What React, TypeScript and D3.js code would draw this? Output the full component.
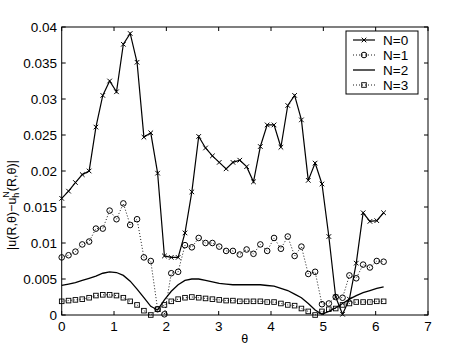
import React from "react";
import * as d3 from "d3";

const theta = [
  0, 0.131, 0.262, 0.393, 0.524, 0.654, 0.785, 0.916, 1.047, 1.178, 1.309, 1.44,
  1.571, 1.702, 1.833, 1.963, 2.094, 2.225, 2.356, 2.487, 2.618, 2.749, 2.88, 3.011,
  3.142, 3.272, 3.403, 3.534, 3.665, 3.796, 3.927, 4.058, 4.189, 4.32, 4.451, 4.581,
  4.712, 4.843, 4.974, 5.105, 5.236, 5.367, 5.498, 5.629, 5.76, 5.89, 6.021, 6.152,
];

const errN0 = [
  0.0162, 0.0172, 0.0184, 0.0195, 0.02, 0.0261, 0.0305, 0.0325, 0.031, 0.0376,
  0.0391, 0.0351, 0.0247, 0.0253, 0.0197, 0.0082, 0.008, 0.008, 0.0114, 0.0171,
  0.0248, 0.0232, 0.0221, 0.0212, 0.0203, 0.0212, 0.0215, 0.0206, 0.0185, 0.0234,
  0.0264, 0.0264, 0.0233, 0.0291, 0.0305, 0.0271, 0.0187, 0.0211, 0.0182, 0.0109,
  0.0025, 0.0001, 0.0022, 0.0072, 0.0142, 0.013, 0.0131, 0.0142,
];

const errN1 = [
  0.008, 0.0083, 0.0088, 0.0098, 0.0102, 0.012, 0.012, 0.0145, 0.0133, 0.0155,
  0.0125, 0.0133, 0.008, 0.0075, 0.0008, 0.0001, 0.0058, 0.006, 0.0097, 0.0094,
  0.0107, 0.01, 0.01, 0.0095, 0.0089, 0.0089, 0.0084, 0.0091, 0.0085, 0.0098,
  0.0089, 0.0107, 0.0092, 0.0109, 0.0082, 0.0095, 0.0057, 0.006, 0.0015, 0.0016,
  0.0025, 0.0024, 0.0055, 0.0051, 0.007, 0.0066, 0.0075, 0.0074,
];

const errN2 = [
  0.0041, 0.0043, 0.0045, 0.0048, 0.0051, 0.0054, 0.0058, 0.006, 0.0059, 0.0055,
  0.0047, 0.0036, 0.0024, 0.0012, 0.0007, 0.0021, 0.0033, 0.0042, 0.0048, 0.005,
  0.005, 0.0048, 0.0046, 0.0044, 0.0043, 0.0042, 0.0042, 0.0042, 0.0042, 0.0042,
  0.0041, 0.004, 0.0037, 0.0034, 0.0029, 0.0024, 0.0016, 0.0007, 0.0001, 0.0005,
  0.001, 0.0016, 0.0022, 0.0027, 0.0031, 0.0034, 0.0037, 0.0039,
];

const errN3 = [
  0.0019, 0.002, 0.0021, 0.0022, 0.0024, 0.0027, 0.0028, 0.0028, 0.0027, 0.0024,
  0.0019, 0.0014, 0.0006, 0.0, 0.0008, 0.0014, 0.0019, 0.0022, 0.0024, 0.0025,
  0.0024, 0.0023, 0.0022, 0.0021, 0.002, 0.002, 0.0019, 0.0019, 0.0019, 0.0019,
  0.0018, 0.0018, 0.0016, 0.0014, 0.0013, 0.0009, 0.0005, 0.0, 0.0005, 0.0008,
  0.0009, 0.0014, 0.0016, 0.0018, 0.0018, 0.0018, 0.0019, 0.0019,
];

const xTicks = [0, 1, 2, 3, 4, 5, 6, 7];
const yTicks = [0, 0.005, 0.01, 0.015, 0.02, 0.025, 0.03, 0.035, 0.04];
const yTickLabels = ["0", "0.005", "0.01", "0.015", "0.02", "0.025", "0.03", "0.035", "0.04"];
const legendLabels = ["N=0", "N=1", "N=2", "N=3"];

const W = 474;
const H = 355;
const L = 61.7, R = 428, T = 27, B = 315;
const FONT = "'Liberation Sans', Arial, Helvetica, sans-serif";

type Marker = "x" | "o" | "s" | "none";

function MarkerShape({ kind, x, y }: { kind: Marker; x: number; y: number }) {
  if (kind === "x") {
    const s = 2.3;
    return (
      <path
        d={`M${x - s},${y - s}L${x + s},${y + s}M${x - s},${y + s}L${x + s},${y - s}`}
        stroke="#000"
        strokeWidth={1}
        fill="none"
      />
    );
  }
  if (kind === "o") {
    return <circle cx={x} cy={y} r={2.8} fill="none" stroke="#000" strokeWidth={1} />;
  }
  if (kind === "s") {
    const s = 2.3;
    return <rect x={x - s} y={y - s} width={2 * s} height={2 * s} fill="none" stroke="#000" strokeWidth={0.9} />;
  }
  return null;
}

export default function App() {
  const x = d3.scaleLinear().domain([0, 7]).range([L, R]);
  const y = d3.scaleLinear().domain([0, 0.04]).range([B, T]);

  const series: { vals: number[]; marker: Marker; dash?: string; width: number }[] = [
    { vals: errN0, marker: "x", width: 1.2 },
    { vals: errN1, marker: "o", dash: "1,2", width: 0.9 },
    { vals: errN2, marker: "none", width: 1.3 },
    { vals: errN3, marker: "s", dash: "1,2", width: 0.9 },
  ];

  const line = (vals: number[]) =>
    d3
      .line<number>()
      .x((_, i) => x(theta[i]))
      .y((v) => y(v))(vals) || "";

  const tickLen = 4;

  return (
    <svg
      width={W}
      height={H}
      style={{ position: "absolute", left: 0, top: 0, background: "#fff" }}
      fontFamily={FONT}
    >
      <rect x={0} y={0} width={W} height={H} fill="#fff" />
      {/* axes box */}
      <rect x={L} y={T} width={R - L} height={B - T} fill="none" stroke="#000" strokeWidth={1} />
      {xTicks.map((t) => (
        <g key={"xt" + t}>
          <line x1={x(t)} x2={x(t)} y1={B} y2={B - tickLen} stroke="#000" />
          <line x1={x(t)} x2={x(t)} y1={T} y2={T + tickLen} stroke="#000" />
          <text x={x(t)} y={331} fontSize={13.5} textAnchor="middle">
            {t}
          </text>
        </g>
      ))}
      {yTicks.map((t, i) => (
        <g key={"yt" + t}>
          <line x1={L} x2={L + tickLen} y1={y(t)} y2={y(t)} stroke="#000" />
          <line x1={R} x2={R - tickLen} y1={y(t)} y2={y(t)} stroke="#000" />
          <text x={57} y={y(t) + 4.5} fontSize={13.5} textAnchor="end">
            {yTickLabels[i]}
          </text>
        </g>
      ))}
      {/* axis labels */}
      <text x={x(3.5)} y={343} fontSize={12.5} textAnchor="middle">
        θ
      </text>
      <text transform="translate(16,205) rotate(-90)" fontSize={12.5} textAnchor="middle">
        |u(R,θ)−u
        <tspan fontSize={9} dy={3}>h</tspan>
        <tspan fontSize={9} dy={-10} dx={-5}>N</tspan>
        <tspan dy={7}>(R,θ)|</tspan>
      </text>
      {/* series */}
      {series.map((s, si) => (
        <g key={"s" + si}>
          <path
            d={line(s.vals)}
            fill="none"
            stroke="#000"
            strokeWidth={s.width}
            strokeDasharray={s.dash}
          />
          {s.marker !== "none" &&
            s.vals.map((v, i) => <MarkerShape key={i} kind={s.marker} x={x(theta[i])} y={y(v)} />)}
        </g>
      ))}
      {/* legend */}
      <rect x={346} y={31} width={72} height={63} fill="#fff" stroke="#000" strokeWidth={1} />
      {series.map((s, i) => {
        const ly = 40 + i * 15;
        return (
          <g key={"lg" + i}>
            <line x1={353} x2={375} y1={ly} y2={ly} stroke="#000" strokeWidth={s.width} strokeDasharray={s.dash} />
            <MarkerShape kind={s.marker} x={364} y={ly} />
            <text x={383} y={ly + 5} fontSize={13.5}>
              {legendLabels[i]}
            </text>
          </g>
        );
      })}
    </svg>
  );
}
